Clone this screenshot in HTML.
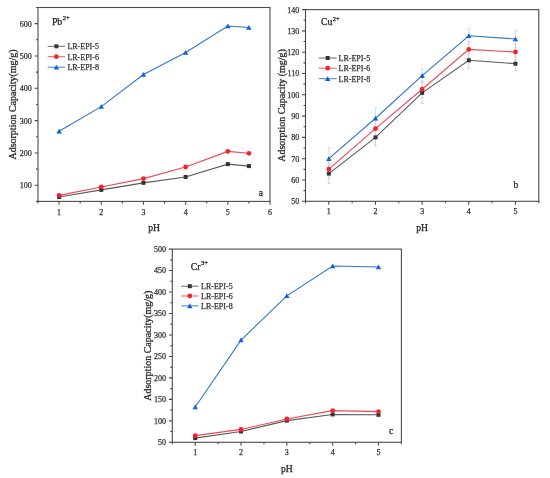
<!DOCTYPE html>
<html><head><meta charset="utf-8"><title>Adsorption capacity vs pH</title>
<style>
html,body{margin:0;padding:0;background:#fff;}
body{width:550px;height:478px;overflow:hidden;}
svg{display:block;font-family:'Liberation Serif', 'Times New Roman', serif;}
</style></head>
<body>
<svg width="550" height="478" viewBox="0 0 550 478">
<rect width="550" height="478" fill="#fff"/>
<rect x="38" y="7.5" width="232" height="193.9" fill="none" stroke="#4a4a4a" stroke-width="1.1"/>
<path d="M59.09,201.4v3.4M101.27,201.4v3.4M143.45,201.4v3.4M185.64,201.4v3.4M227.82,201.4v3.4M270,201.4v3.4M38,201.4v2.0M80.18,201.4v2.0M122.36,201.4v2.0M164.55,201.4v2.0M206.73,201.4v2.0M248.91,201.4v2.0M38,185.24h-3.4M38,152.93h-3.4M38,120.61h-3.4M38,88.29h-3.4M38,55.97h-3.4M38,23.66h-3.4M38,201.4h-2.0M38,169.08h-2.0M38,136.77h-2.0M38,104.45h-2.0M38,72.13h-2.0M38,39.82h-2.0M38,7.5h-2.0" stroke="#4a4a4a" stroke-width="1.1" fill="none"/>
<g font-size="8.0" fill="#333" stroke="#333" stroke-width="0.25" text-anchor="middle">
<text x="59.09" y="214.5">1</text>
<text x="101.27" y="214.5">2</text>
<text x="143.45" y="214.5">3</text>
<text x="185.64" y="214.5">4</text>
<text x="227.82" y="214.5">5</text>
<text x="270" y="214.5">6</text>
</g>
<g font-size="8.0" fill="#333" stroke="#333" stroke-width="0.25" text-anchor="end">
<text x="31.8" y="188.14">100</text>
<text x="31.8" y="155.83">200</text>
<text x="31.8" y="123.51">300</text>
<text x="31.8" y="91.19">400</text>
<text x="31.8" y="58.87">500</text>
<text x="31.8" y="26.56">600</text>
</g>
<text x="154" y="230.8" font-size="9.6" fill="#222" stroke="#222" stroke-width="0.25" text-anchor="middle">pH</text>
<text transform="translate(16.3,104.45) rotate(-90)" x="0" y="0" font-size="10.0" fill="#222" stroke="#222" stroke-width="0.25" text-anchor="middle">Adsorption Capacity(mg/g)</text>
<polyline points="59.09,196.97 101.27,189.86 143.45,182.85 185.64,176.94 227.82,164.11 248.91,166.11" fill="none" stroke="#5a5a5a" stroke-width="1.1"/>
<rect x="57.09" y="194.97" width="4" height="4" fill="#333333"/>
<rect x="99.27" y="187.86" width="4" height="4" fill="#333333"/>
<rect x="141.45" y="180.85" width="4" height="4" fill="#333333"/>
<rect x="183.64" y="174.94" width="4" height="4" fill="#333333"/>
<rect x="225.82" y="162.11" width="4" height="4" fill="#333333"/>
<rect x="246.91" y="164.11" width="4" height="4" fill="#333333"/>
<polyline points="59.09,195.36 101.27,186.95 143.45,178.62 185.64,167.02 227.82,151.37 248.91,153.28" fill="none" stroke="#f04654" stroke-width="1.1"/>
<circle cx="59.09" cy="195.36" r="2.4" fill="#f5222e"/>
<circle cx="101.27" cy="186.95" r="2.4" fill="#f5222e"/>
<circle cx="143.45" cy="178.62" r="2.4" fill="#f5222e"/>
<circle cx="185.64" cy="167.02" r="2.4" fill="#f5222e"/>
<circle cx="227.82" cy="151.37" r="2.4" fill="#f5222e"/>
<circle cx="248.91" cy="153.28" r="2.4" fill="#f5222e"/>
<polyline points="59.09,131.27 101.27,106.62 143.45,74.56 185.64,52.52 227.82,25.95 248.91,27.47" fill="none" stroke="#2f74cc" stroke-width="1.1"/>
<polygon points="59.09,128.72 56.39,133.52 61.79,133.52" fill="#0f62d8"/>
<polygon points="101.27,104.07 98.57,108.87 103.97,108.87" fill="#0f62d8"/>
<polygon points="143.45,72.01 140.75,76.81 146.15,76.81" fill="#0f62d8"/>
<polygon points="185.64,49.97 182.94,54.77 188.34,54.77" fill="#0f62d8"/>
<polygon points="227.82,23.4 225.12,28.2 230.52,28.2" fill="#0f62d8"/>
<polygon points="248.91,24.92 246.21,29.72 251.61,29.72" fill="#0f62d8"/>
<line x1="47.6" y1="46.3" x2="65.2" y2="46.3" stroke="#5a5a5a" stroke-width="0.9"/>
<rect x="54.4" y="44.3" width="4" height="4" fill="#333333"/>
<text x="67.4" y="49.1" font-size="8.0" fill="#333" stroke="#333" stroke-width="0.25">LR-EPI-5</text>
<line x1="47.6" y1="56.7" x2="65.2" y2="56.7" stroke="#f04654" stroke-width="0.9"/>
<circle cx="56.4" cy="56.7" r="2.4" fill="#f5222e"/>
<text x="67.4" y="59.5" font-size="8.0" fill="#333" stroke="#333" stroke-width="0.25">LR-EPI-6</text>
<line x1="47.6" y1="67.2" x2="65.2" y2="67.2" stroke="#2f74cc" stroke-width="0.9"/>
<polygon points="56.4,64.65 53.7,69.45 59.1,69.45" fill="#0f62d8"/>
<text x="67.4" y="70" font-size="8.0" fill="#333" stroke="#333" stroke-width="0.25">LR-EPI-8</text>
<text x="51.9" y="24.5" font-size="9.8" fill="#222" stroke="#222" stroke-width="0.25">Pb<tspan font-size="6.6" dx="0.4" dy="-4.4">2+</tspan></text>
<text x="258.8" y="195.5" font-size="9.4" fill="#222" stroke="#222" stroke-width="0.25">a</text>
<rect x="305.5" y="9.6" width="233.3" height="191.7" fill="none" stroke="#4a4a4a" stroke-width="1.1"/>
<path d="M328.83,201.3v3.4M375.49,201.3v3.4M422.15,201.3v3.4M468.81,201.3v3.4M515.47,201.3v3.4M305.5,201.3v2.0M352.16,201.3v2.0M398.82,201.3v2.0M445.48,201.3v2.0M492.14,201.3v2.0M538.8,201.3v2.0M305.5,201.3h-3.4M305.5,180h-3.4M305.5,158.7h-3.4M305.5,137.4h-3.4M305.5,116.1h-3.4M305.5,94.8h-3.4M305.5,73.5h-3.4M305.5,52.2h-3.4M305.5,30.9h-3.4M305.5,9.6h-3.4M305.5,190.65h-2.0M305.5,169.35h-2.0M305.5,148.05h-2.0M305.5,126.75h-2.0M305.5,105.45h-2.0M305.5,84.15h-2.0M305.5,62.85h-2.0M305.5,41.55h-2.0M305.5,20.25h-2.0" stroke="#4a4a4a" stroke-width="1.1" fill="none"/>
<g font-size="8.0" fill="#333" stroke="#333" stroke-width="0.25" text-anchor="middle">
<text x="328.83" y="214.4">1</text>
<text x="375.49" y="214.4">2</text>
<text x="422.15" y="214.4">3</text>
<text x="468.81" y="214.4">4</text>
<text x="515.47" y="214.4">5</text>
</g>
<g font-size="8.0" fill="#333" stroke="#333" stroke-width="0.25" text-anchor="end">
<text x="299.3" y="204.2">50</text>
<text x="299.3" y="182.9">60</text>
<text x="299.3" y="161.6">70</text>
<text x="299.3" y="140.3">80</text>
<text x="299.3" y="119">90</text>
<text x="299.3" y="97.7">100</text>
<text x="299.3" y="76.4">110</text>
<text x="299.3" y="55.1">120</text>
<text x="299.3" y="33.8">130</text>
<text x="299.3" y="12.5">140</text>
</g>
<text x="422.15" y="230.7" font-size="9.6" fill="#222" stroke="#222" stroke-width="0.25" text-anchor="middle">pH</text>
<text transform="translate(284.7,105.45) rotate(-90)" x="0" y="0" font-size="10.0" fill="#222" stroke="#222" stroke-width="0.25" text-anchor="middle">Adsorption Capacity (mg/g)</text>
<line x1="328.83" y1="163.81" x2="328.83" y2="183.41" stroke="#c4c4c4" stroke-width="0.7"/>
<line x1="327.33" y1="163.81" x2="330.33" y2="163.81" stroke="#c4c4c4" stroke-width="0.7"/>
<line x1="327.33" y1="183.41" x2="330.33" y2="183.41" stroke="#c4c4c4" stroke-width="0.7"/>
<line x1="375.49" y1="129.09" x2="375.49" y2="145.71" stroke="#c4c4c4" stroke-width="0.7"/>
<line x1="373.99" y1="129.09" x2="376.99" y2="129.09" stroke="#c4c4c4" stroke-width="0.7"/>
<line x1="373.99" y1="145.71" x2="376.99" y2="145.71" stroke="#c4c4c4" stroke-width="0.7"/>
<line x1="422.15" y1="82.23" x2="422.15" y2="103.53" stroke="#c4c4c4" stroke-width="0.7"/>
<line x1="420.65" y1="82.23" x2="423.65" y2="82.23" stroke="#c4c4c4" stroke-width="0.7"/>
<line x1="420.65" y1="103.53" x2="423.65" y2="103.53" stroke="#c4c4c4" stroke-width="0.7"/>
<line x1="468.81" y1="51.99" x2="468.81" y2="68.6" stroke="#c4c4c4" stroke-width="0.7"/>
<line x1="467.31" y1="51.99" x2="470.31" y2="51.99" stroke="#c4c4c4" stroke-width="0.7"/>
<line x1="467.31" y1="68.6" x2="470.31" y2="68.6" stroke="#c4c4c4" stroke-width="0.7"/>
<line x1="515.47" y1="56.89" x2="515.47" y2="70.52" stroke="#c4c4c4" stroke-width="0.7"/>
<line x1="513.97" y1="56.89" x2="516.97" y2="56.89" stroke="#c4c4c4" stroke-width="0.7"/>
<line x1="513.97" y1="70.52" x2="516.97" y2="70.52" stroke="#c4c4c4" stroke-width="0.7"/>
<line x1="328.83" y1="160.19" x2="328.83" y2="178.08" stroke="#f4c0c4" stroke-width="0.7"/>
<line x1="327.33" y1="160.19" x2="330.33" y2="160.19" stroke="#f4c0c4" stroke-width="0.7"/>
<line x1="327.33" y1="178.08" x2="330.33" y2="178.08" stroke="#f4c0c4" stroke-width="0.7"/>
<line x1="375.49" y1="120.15" x2="375.49" y2="137.19" stroke="#f4c0c4" stroke-width="0.7"/>
<line x1="373.99" y1="120.15" x2="376.99" y2="120.15" stroke="#f4c0c4" stroke-width="0.7"/>
<line x1="373.99" y1="137.19" x2="376.99" y2="137.19" stroke="#f4c0c4" stroke-width="0.7"/>
<line x1="422.15" y1="80.74" x2="422.15" y2="97.78" stroke="#f4c0c4" stroke-width="0.7"/>
<line x1="420.65" y1="80.74" x2="423.65" y2="80.74" stroke="#f4c0c4" stroke-width="0.7"/>
<line x1="420.65" y1="97.78" x2="423.65" y2="97.78" stroke="#f4c0c4" stroke-width="0.7"/>
<line x1="468.81" y1="41.34" x2="468.81" y2="57.53" stroke="#f4c0c4" stroke-width="0.7"/>
<line x1="467.31" y1="41.34" x2="470.31" y2="41.34" stroke="#f4c0c4" stroke-width="0.7"/>
<line x1="467.31" y1="57.53" x2="470.31" y2="57.53" stroke="#f4c0c4" stroke-width="0.7"/>
<line x1="515.47" y1="44.32" x2="515.47" y2="59.66" stroke="#f4c0c4" stroke-width="0.7"/>
<line x1="513.97" y1="44.32" x2="516.97" y2="44.32" stroke="#f4c0c4" stroke-width="0.7"/>
<line x1="513.97" y1="59.66" x2="516.97" y2="59.66" stroke="#f4c0c4" stroke-width="0.7"/>
<line x1="328.83" y1="147.41" x2="328.83" y2="169.99" stroke="#b8d0e6" stroke-width="0.7"/>
<line x1="327.33" y1="147.41" x2="330.33" y2="147.41" stroke="#b8d0e6" stroke-width="0.7"/>
<line x1="327.33" y1="169.99" x2="330.33" y2="169.99" stroke="#b8d0e6" stroke-width="0.7"/>
<line x1="375.49" y1="108.01" x2="375.49" y2="128.45" stroke="#b8d0e6" stroke-width="0.7"/>
<line x1="373.99" y1="108.01" x2="376.99" y2="108.01" stroke="#b8d0e6" stroke-width="0.7"/>
<line x1="373.99" y1="128.45" x2="376.99" y2="128.45" stroke="#b8d0e6" stroke-width="0.7"/>
<line x1="422.15" y1="68.81" x2="422.15" y2="82.45" stroke="#b8d0e6" stroke-width="0.7"/>
<line x1="420.65" y1="68.81" x2="423.65" y2="68.81" stroke="#b8d0e6" stroke-width="0.7"/>
<line x1="420.65" y1="82.45" x2="423.65" y2="82.45" stroke="#b8d0e6" stroke-width="0.7"/>
<line x1="468.81" y1="28.34" x2="468.81" y2="43.25" stroke="#b8d0e6" stroke-width="0.7"/>
<line x1="467.31" y1="28.34" x2="470.31" y2="28.34" stroke="#b8d0e6" stroke-width="0.7"/>
<line x1="467.31" y1="43.25" x2="470.31" y2="43.25" stroke="#b8d0e6" stroke-width="0.7"/>
<line x1="515.47" y1="30.69" x2="515.47" y2="47.3" stroke="#b8d0e6" stroke-width="0.7"/>
<line x1="513.97" y1="30.69" x2="516.97" y2="30.69" stroke="#b8d0e6" stroke-width="0.7"/>
<line x1="513.97" y1="47.3" x2="516.97" y2="47.3" stroke="#b8d0e6" stroke-width="0.7"/>
<polyline points="328.83,173.61 375.49,137.4 422.15,92.88 468.81,60.29 515.47,63.7" fill="none" stroke="#5a5a5a" stroke-width="1.1"/>
<rect x="326.83" y="171.61" width="4" height="4" fill="#333333"/>
<rect x="373.49" y="135.4" width="4" height="4" fill="#333333"/>
<rect x="420.15" y="90.88" width="4" height="4" fill="#333333"/>
<rect x="466.81" y="58.29" width="4" height="4" fill="#333333"/>
<rect x="513.47" y="61.7" width="4" height="4" fill="#333333"/>
<polyline points="328.83,169.14 375.49,128.67 422.15,89.26 468.81,49.43 515.47,51.99" fill="none" stroke="#f04654" stroke-width="1.1"/>
<circle cx="328.83" cy="169.14" r="2.4" fill="#f5222e"/>
<circle cx="375.49" cy="128.67" r="2.4" fill="#f5222e"/>
<circle cx="422.15" cy="89.26" r="2.4" fill="#f5222e"/>
<circle cx="468.81" cy="49.43" r="2.4" fill="#f5222e"/>
<circle cx="515.47" cy="51.99" r="2.4" fill="#f5222e"/>
<polyline points="328.83,158.7 375.49,118.23 422.15,75.63 468.81,35.8 515.47,38.99" fill="none" stroke="#2f74cc" stroke-width="1.1"/>
<polygon points="328.83,156.15 326.13,160.95 331.53,160.95" fill="#0f62d8"/>
<polygon points="375.49,115.68 372.79,120.48 378.19,120.48" fill="#0f62d8"/>
<polygon points="422.15,73.08 419.45,77.88 424.85,77.88" fill="#0f62d8"/>
<polygon points="468.81,33.25 466.11,38.05 471.51,38.05" fill="#0f62d8"/>
<polygon points="515.47,36.44 512.77,41.24 518.17,41.24" fill="#0f62d8"/>
<line x1="318.7" y1="58" x2="336.7" y2="58" stroke="#5a5a5a" stroke-width="0.9"/>
<rect x="325.7" y="56" width="4" height="4" fill="#333333"/>
<text x="338.6" y="60.8" font-size="8.0" fill="#333" stroke="#333" stroke-width="0.25">LR-EPI-5</text>
<line x1="318.7" y1="68.2" x2="336.7" y2="68.2" stroke="#f04654" stroke-width="0.9"/>
<circle cx="327.7" cy="68.2" r="2.4" fill="#f5222e"/>
<text x="338.6" y="71" font-size="8.0" fill="#333" stroke="#333" stroke-width="0.25">LR-EPI-6</text>
<line x1="318.7" y1="78.7" x2="336.7" y2="78.7" stroke="#2f74cc" stroke-width="0.9"/>
<polygon points="327.7,76.15 325,80.95 330.4,80.95" fill="#0f62d8"/>
<text x="338.6" y="81.5" font-size="8.0" fill="#333" stroke="#333" stroke-width="0.25">LR-EPI-8</text>
<text x="320.9" y="24.9" font-size="9.8" fill="#222" stroke="#222" stroke-width="0.25">Cu<tspan font-size="6.6" dx="0.4" dy="-4.4">2+</tspan></text>
<text x="513.4" y="187.8" font-size="9.4" fill="#222" stroke="#222" stroke-width="0.25">b</text>
<rect x="172.3" y="249.1" width="229.1" height="193.2" fill="none" stroke="#4a4a4a" stroke-width="1.1"/>
<path d="M195.21,442.3v3.4M241.03,442.3v3.4M286.85,442.3v3.4M332.67,442.3v3.4M378.49,442.3v3.4M172.3,442.3v2.0M218.12,442.3v2.0M263.94,442.3v2.0M309.76,442.3v2.0M355.58,442.3v2.0M401.4,442.3v2.0M172.3,442.3h-3.4M172.3,420.83h-3.4M172.3,399.37h-3.4M172.3,377.9h-3.4M172.3,356.43h-3.4M172.3,334.97h-3.4M172.3,313.5h-3.4M172.3,292.03h-3.4M172.3,270.57h-3.4M172.3,249.1h-3.4M172.3,431.57h-2.0M172.3,410.1h-2.0M172.3,388.63h-2.0M172.3,367.17h-2.0M172.3,345.7h-2.0M172.3,324.23h-2.0M172.3,302.77h-2.0M172.3,281.3h-2.0M172.3,259.83h-2.0" stroke="#4a4a4a" stroke-width="1.1" fill="none"/>
<g font-size="8.0" fill="#333" stroke="#333" stroke-width="0.25" text-anchor="middle">
<text x="195.21" y="455.4">1</text>
<text x="241.03" y="455.4">2</text>
<text x="286.85" y="455.4">3</text>
<text x="332.67" y="455.4">4</text>
<text x="378.49" y="455.4">5</text>
</g>
<g font-size="8.0" fill="#333" stroke="#333" stroke-width="0.25" text-anchor="end">
<text x="166.1" y="445.2">50</text>
<text x="166.1" y="423.73">100</text>
<text x="166.1" y="402.27">150</text>
<text x="166.1" y="380.8">200</text>
<text x="166.1" y="359.33">250</text>
<text x="166.1" y="337.87">300</text>
<text x="166.1" y="316.4">350</text>
<text x="166.1" y="294.93">400</text>
<text x="166.1" y="273.47">450</text>
<text x="166.1" y="252">500</text>
</g>
<text x="286.85" y="471.7" font-size="9.6" fill="#222" stroke="#222" stroke-width="0.25" text-anchor="middle">pH</text>
<text transform="translate(150.8,345.7) rotate(-90)" x="0" y="0" font-size="10.0" fill="#222" stroke="#222" stroke-width="0.25" text-anchor="middle">Adsorption Capacity(mg/g)</text>
<polyline points="195.21,438.09 241.03,431.48 286.85,420.62 332.67,414.44 378.49,414.82" fill="none" stroke="#5a5a5a" stroke-width="1.1"/>
<rect x="193.21" y="436.09" width="4" height="4" fill="#333333"/>
<rect x="239.03" y="429.48" width="4" height="4" fill="#333333"/>
<rect x="284.85" y="418.62" width="4" height="4" fill="#333333"/>
<rect x="330.67" y="412.44" width="4" height="4" fill="#333333"/>
<rect x="376.49" y="412.82" width="4" height="4" fill="#333333"/>
<polyline points="195.21,435.6 241.03,429.42 286.85,418.99 332.67,410.62 378.49,411.6" fill="none" stroke="#f04654" stroke-width="1.1"/>
<circle cx="195.21" cy="435.6" r="2.4" fill="#f5222e"/>
<circle cx="241.03" cy="429.42" r="2.4" fill="#f5222e"/>
<circle cx="286.85" cy="418.99" r="2.4" fill="#f5222e"/>
<circle cx="332.67" cy="410.62" r="2.4" fill="#f5222e"/>
<circle cx="378.49" cy="411.6" r="2.4" fill="#f5222e"/>
<polyline points="195.21,407.01 241.03,340.12 286.85,295.81 332.67,265.93 378.49,267.05" fill="none" stroke="#2f74cc" stroke-width="1.1"/>
<polygon points="195.21,404.46 192.51,409.26 197.91,409.26" fill="#0f62d8"/>
<polygon points="241.03,337.57 238.33,342.37 243.73,342.37" fill="#0f62d8"/>
<polygon points="286.85,293.26 284.15,298.06 289.55,298.06" fill="#0f62d8"/>
<polygon points="332.67,263.38 329.97,268.18 335.37,268.18" fill="#0f62d8"/>
<polygon points="378.49,264.5 375.79,269.3 381.19,269.3" fill="#0f62d8"/>
<line x1="181.1" y1="286.2" x2="198.5" y2="286.2" stroke="#5a5a5a" stroke-width="0.9"/>
<rect x="187.8" y="284.2" width="4" height="4" fill="#333333"/>
<text x="201.1" y="289" font-size="8.0" fill="#333" stroke="#333" stroke-width="0.25">LR-EPI-5</text>
<line x1="181.1" y1="296" x2="198.5" y2="296" stroke="#f04654" stroke-width="0.9"/>
<circle cx="189.8" cy="296" r="2.4" fill="#f5222e"/>
<text x="201.1" y="298.8" font-size="8.0" fill="#333" stroke="#333" stroke-width="0.25">LR-EPI-6</text>
<line x1="181.1" y1="305.9" x2="198.5" y2="305.9" stroke="#2f74cc" stroke-width="0.9"/>
<polygon points="189.8,303.35 187.1,308.15 192.5,308.15" fill="#0f62d8"/>
<text x="201.1" y="308.7" font-size="8.0" fill="#333" stroke="#333" stroke-width="0.25">LR-EPI-8</text>
<text x="190.8" y="269.8" font-size="9.8" fill="#222" stroke="#222" stroke-width="0.25">Cr<tspan font-size="6.6" dx="0.4" dy="-4.4">3+</tspan></text>
<text x="388.9" y="434" font-size="9.4" fill="#222" stroke="#222" stroke-width="0.25">c</text>
</svg>
</body></html>
